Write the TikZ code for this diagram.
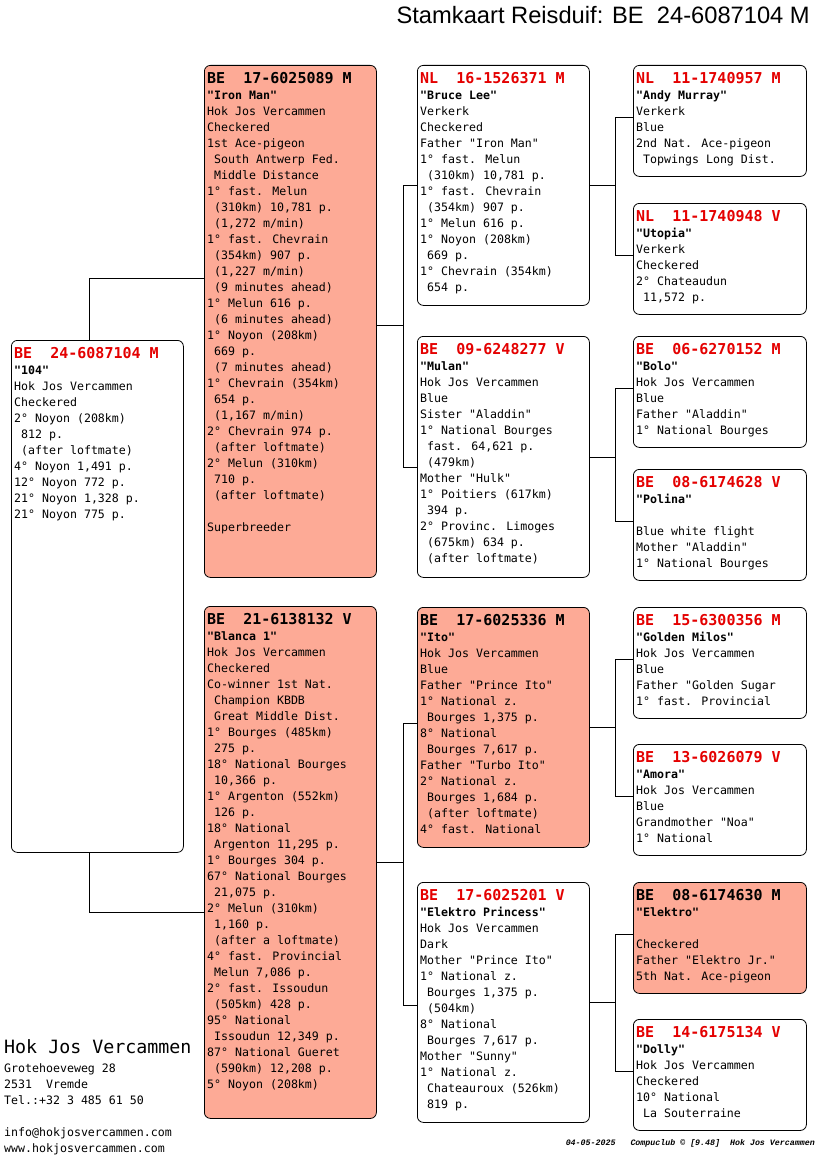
\documentclass[tikz,border=0pt]{standalone}
\usepackage{fontspec}
\usepackage{tikz}
\usetikzlibrary{positioning}

\newfontfamily\pedmono{DejaVu Sans Mono}
\newfontfamily\titlefont{Liberation Sans}
\newfontfamily\stampfont{Liberation Mono}
\definecolor{salmon}{RGB}{253,170,150}
\definecolor{ringred}{RGB}{228,0,0}
\newcommand{\ringno}[1]{{\fontsize{15}{16}\selectfont\bfseries\rule{0pt}{13.5pt}#1}}
\newcommand{\dovename}[1]{{\bfseries #1}}

\begin{document}
\begin{tikzpicture}[x=1pt, y=-1pt,
        pbox/.style={draw, rounded corners=6pt, line width=0.8pt, fill=white, anchor=north west, inner sep=0pt, minimum width=172pt},
        hibox/.style={pbox, fill=salmon},
        fullh/.style={minimum height=512pt},
        halfh/.style={minimum height=240pt},
        quarth/.style={minimum height=111pt, minimum width=173pt},
        info/.style={anchor=north west, align=left, inner sep=0pt, font=\pedmono\fontsize{11.6}{16}\selectfont},
        link/.style={line width=0.8pt}
    ]
    \useasboundingbox (0,0) rectangle (816,1172);

    % Title
    \node[anchor=east, inner sep=0pt, font=\titlefont\fontsize{23.7}{24}\selectfont] (title) at (810,15) {Stamkaart Reisduif: BE\ \ 24-6087104 M};

    % Generation 1
    \node[pbox, fullh] (subject) at (11,340) {};
    \node[info] (subject-txt) at ([shift={(3,5)}]subject.north west) {\textcolor{ringred}{\ringno{BE\ \ 24-6087104 M}}\\
        \dovename{"104"}\\
        Hok Jos Vercammen\\
        Checkered\\
        2° Noyon (208km)\\
        ~812 p.\\
        ~(after loftmate)\\
        4° Noyon 1,491 p.\\
        12° Noyon 772 p.\\
        21° Noyon 1,328 p.\\
        21° Noyon 775 p.};

    % Generation 2
    \node[hibox, fullh] (ironman) at (204,65) {};
    \node[info] (ironman-txt) at ([shift={(3,5)}]ironman.north west) {\ringno{BE\ \ 17-6025089 M}\\
        \dovename{"Iron Man"}\\
        Hok Jos Vercammen\\
        Checkered\\
        1st Ace-pigeon\\
        ~South Antwerp Fed.\\
        ~Middle Distance\\
        1° fast. Melun\\
        ~(310km) 10,781 p.\\
        ~(1,272 m/min)\\
        1° fast. Chevrain\\
        ~(354km) 907 p.\\
        ~(1,227 m/min)\\
        ~(9 minutes ahead)\\
        1° Melun 616 p.\\
        ~(6 minutes ahead)\\
        1° Noyon (208km)\\
        ~669 p.\\
        ~(7 minutes ahead)\\
        1° Chevrain (354km)\\
        ~654 p.\\
        ~(1,167 m/min)\\
        2° Chevrain 974 p.\\
        ~(after loftmate)\\
        2° Melun (310km)\\
        ~710 p.\\
        ~(after loftmate)\\
        ~\\
        Superbreeder};

    \node[hibox, fullh] (blanca) at (204,606) {};
    \node[info] (blanca-txt) at ([shift={(3,5)}]blanca.north west) {\ringno{BE\ \ 21-6138132 V}\\
        \dovename{"Blanca 1"}\\
        Hok Jos Vercammen\\
        Checkered\\
        Co-winner 1st Nat.\\
        ~Champion KBDB\\
        ~Great Middle Dist.\\
        1° Bourges (485km)\\
        ~275 p.\\
        18° National Bourges\\
        ~10,366 p.\\
        1° Argenton (552km)\\
        ~126 p.\\
        18° National\\
        ~Argenton 11,295 p.\\
        1° Bourges 304 p.\\
        67° National Bourges\\
        ~21,075 p.\\
        2° Melun (310km)\\
        ~1,160 p.\\
        ~(after a loftmate)\\
        4° fast. Provincial\\
        ~Melun 7,086 p.\\
        2° fast. Issoudun\\
        ~(505km) 428 p.\\
        95° National\\
        ~Issoudun 12,349 p.\\
        87° National Gueret\\
        ~(590km) 12,208 p.\\
        5° Noyon (208km)};

    % Generation 3
    \node[pbox, halfh] (brucelee) at (417,65) {};
    \node[info] (brucelee-txt) at ([shift={(3,5)}]brucelee.north west) {\textcolor{ringred}{\ringno{NL\ \ 16-1526371 M}}\\
        \dovename{"Bruce Lee"}\\
        Verkerk\\
        Checkered\\
        Father "Iron Man"\\
        1° fast. Melun\\
        ~(310km) 10,781 p.\\
        1° fast. Chevrain\\
        ~(354km) 907 p.\\
        1° Melun 616 p.\\
        1° Noyon (208km)\\
        ~669 p.\\
        1° Chevrain (354km)\\
        ~654 p.};

    \node[pbox, halfh, minimum height=241pt] (mulan) at (417,336) {};
    \node[info] (mulan-txt) at ([shift={(3,5)}]mulan.north west) {\textcolor{ringred}{\ringno{BE\ \ 09-6248277 V}}\\
        \dovename{"Mulan"}\\
        Hok Jos Vercammen\\
        Blue\\
        Sister "Aladdin"\\
        1° National Bourges\\
        ~fast. 64,621 p.\\
        ~(479km)\\
        Mother "Hulk"\\
        1° Poitiers (617km)\\
        ~394 p.\\
        2° Provinc. Limoges\\
        ~(675km) 634 p.\\
        ~(after loftmate)};

    \node[hibox, halfh] (ito) at (417,607) {};
    \node[info] (ito-txt) at ([shift={(3,5)}]ito.north west) {\ringno{BE\ \ 17-6025336 M}\\
        \dovename{"Ito"}\\
        Hok Jos Vercammen\\
        Blue\\
        Father "Prince Ito"\\
        1° National z.\\
        ~Bourges 1,375 p.\\
        8° National\\
        ~Bourges 7,617 p.\\
        Father "Turbo Ito"\\
        2° National z.\\
        ~Bourges 1,684 p.\\
        ~(after loftmate)\\
        4° fast. National};

    \node[pbox, halfh] (elektroprincess) at (417,882) {};
    \node[info] (elektroprincess-txt) at ([shift={(3,5)}]elektroprincess.north west) {\textcolor{ringred}{\ringno{BE\ \ 17-6025201 V}}\\
        \dovename{"Elektro Princess"}\\
        Hok Jos Vercammen\\
        Dark\\
        Mother "Prince Ito"\\
        1° National z.\\
        ~Bourges 1,375 p.\\
        ~(504km)\\
        8° National\\
        ~Bourges 7,617 p.\\
        Mother "Sunny"\\
        1° National z.\\
        ~Chateauroux (526km)\\
        ~819 p.};

    % Generation 4
    \node[pbox, quarth] (andy) at (633,65) {};
    \node[info] (andy-txt) at ([shift={(3,5)}]andy.north west) {\textcolor{ringred}{\ringno{NL\ \ 11-1740957 M}}\\
        \dovename{"Andy Murray"}\\
        Verkerk\\
        Blue\\
        2nd Nat. Ace-pigeon\\
        ~Topwings Long Dist.};

    \node[pbox, quarth] (utopia) at (633,203) {};
    \node[info] (utopia-txt) at ([shift={(3,5)}]utopia.north west) {\textcolor{ringred}{\ringno{NL\ \ 11-1740948 V}}\\
        \dovename{"Utopia"}\\
        Verkerk\\
        Checkered\\
        2° Chateaudun\\
        ~11,572 p.};

    \node[pbox, quarth] (bolo) at (633,336) {};
    \node[info] (bolo-txt) at ([shift={(3,5)}]bolo.north west) {\textcolor{ringred}{\ringno{BE\ \ 06-6270152 M}}\\
        \dovename{"Bolo"}\\
        Hok Jos Vercammen\\
        Blue\\
        Father "Aladdin"\\
        1° National Bourges};

    \node[pbox, quarth] (polina) at (633,469) {};
    \node[info] (polina-txt) at ([shift={(3,5)}]polina.north west) {\textcolor{ringred}{\ringno{BE\ \ 08-6174628 V}}\\
        \dovename{"Polina"}\\
        ~\\
        Blue white flight\\
        Mother "Aladdin"\\
        1° National Bourges};

    \node[pbox, quarth] (milos) at (633,607) {};
    \node[info] (milos-txt) at ([shift={(3,5)}]milos.north west) {\textcolor{ringred}{\ringno{BE\ \ 15-6300356 M}}\\
        \dovename{"Golden Milos"}\\
        Hok Jos Vercammen\\
        Blue\\
        Father "Golden Sugar\\
        1° fast. Provincial};

    \node[pbox, quarth] (amora) at (633,744) {};
    \node[info] (amora-txt) at ([shift={(3,5)}]amora.north west) {\textcolor{ringred}{\ringno{BE\ \ 13-6026079 V}}\\
        \dovename{"Amora"}\\
        Hok Jos Vercammen\\
        Blue\\
        Grandmother "Noa"\\
        1° National};

    \node[hibox, quarth] (elektro) at (633,882) {};
    \node[info] (elektro-txt) at ([shift={(3,5)}]elektro.north west) {\ringno{BE\ \ 08-6174630 M}\\
        \dovename{"Elektro"}\\
        ~\\
        Checkered\\
        Father "Elektro Jr."\\
        5th Nat. Ace-pigeon};

    \node[pbox, quarth] (dolly) at (633,1019) {};
    \node[info] (dolly-txt) at ([shift={(3,5)}]dolly.north west) {\textcolor{ringred}{\ringno{BE\ \ 14-6175134 V}}\\
        \dovename{"Dolly"}\\
        Hok Jos Vercammen\\
        Checkered\\
        10° National\\
        ~La Souterraine};

    % Lines between generations
    \draw[link] ([xshift=-8pt]subject.north) |- ([yshift=43pt]ironman.west);
    \draw[link] ([xshift=-8pt]subject.south) |- ([yshift=-50pt]blanca.west);

    \draw[link] ([yshift=-4pt]ironman.east) -- ++(27,0) |- (brucelee.west);
    \draw[link] ([yshift=-4pt]ironman.east) ++(27,0) |- ([yshift=-10pt]mulan.west);
    \draw[link] (blanca.east) -- ++(27,0) |- ([yshift=4pt]ito.west);
    \draw[link] (blanca.east) ++(27,0) |- ([yshift=-3pt]elektroprincess.west);

    \foreach \kid/\dad/\mom in {brucelee/andy/utopia, mulan/bolo/polina, ito/milos/amora, elektroprincess/elektro/dolly} {
        \draw[link] (\kid.east) -- ++(26,0) |- ([yshift=4pt]\dad.west);
        \draw[link] (\kid.east) ++(26,0) |- ([yshift=4pt]\mom.west);
    }

    % Loft address and print line
    \node[anchor=west, inner sep=0pt, font=\pedmono\fontsize{18.3}{18}\selectfont] (loftname) at (4,1047) {Hok Jos Vercammen};
    \node[info] (address) at (4,1063) {Grotehoeveweg 28\\
        2531\ \ Vremde\\
        Tel.:+32 3 485 61 50\\
        ~\\
        info@hokjosvercammen.com\\
        www.hokjosvercammen.com};
    \node[anchor=east, inner sep=0pt, font=\stampfont\fontsize{8.3}{8}\selectfont\bfseries\itshape] (stamp) at (815,1143) {04-05-2025\ \ \ Compuclub © [9.48]\ \ Hok Jos Vercammen};
\end{tikzpicture}
\end{document}
